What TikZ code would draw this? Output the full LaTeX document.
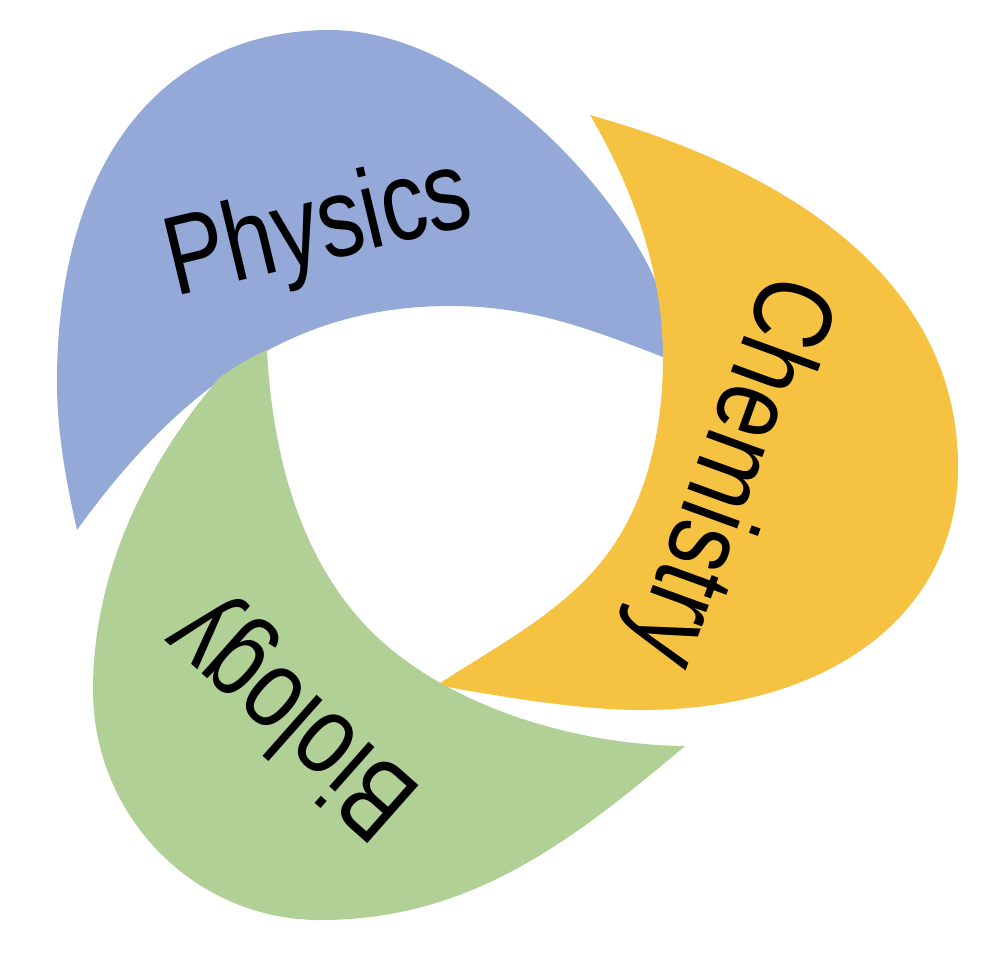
\documentclass[tikz,border=0pt]{standalone}
\usepackage{fontspec}
\newfontfamily\subjectfont{Liberation Sans}
\definecolor{physicsblue}{RGB}{148,169,215}
\definecolor{chemyellow}{RGB}{245,194,66}
\definecolor{biogreen}{RGB}{177,208,149}

\begin{document}
\begin{tikzpicture}[x=0.01cm, y=-0.01cm,
    subject/.style={anchor=base, inner sep=0pt, xscale=0.8, transform shape, font=\subjectfont\fontsize{32}{38}\selectfont}]
    \useasboundingbox (0, 0) rectangle (1000, 956);
    % physics
    \fill[physicsblue] (77, 530) .. controls (66, 481) and (57, 432) .. (57, 382)
      .. controls (57, 164) and (161, 30) .. (330, 30)
      .. controls (470, 30) and (617, 185) .. (658, 287)
      .. controls (662, 310) and (663, 335) .. (663, 357)
      .. controls (588, 328) and (530, 306) .. (450, 306)
      .. controls (320, 306) and (199, 360) .. (77, 530) -- cycle;
    % chemistry
    \fill[chemyellow] (590, 115) .. controls (801, 174) and (958, 287) .. (958, 467)
      .. controls (958, 613) and (831, 710) .. (640, 710)
      .. controls (580, 710) and (496, 696) .. (437, 685)
      .. controls (492, 649) and (554, 617) .. (597, 567)
      .. controls (646, 510) and (663, 432) .. (663, 357)
      .. controls (663, 272) and (633, 188) .. (590, 115) -- cycle;
    % biology
    \fill[biogreen] (685, 746) .. controls (571, 842) and (470, 920) .. (320, 920)
      .. controls (195, 920) and (93, 817) .. (93, 690)
      .. controls (93, 570) and (148, 461) .. (220, 377)
      .. controls (236, 366) and (251, 357) .. (267, 350)
      .. controls (272, 450) and (298, 555) .. (367, 627)
      .. controls (443, 706) and (575, 745) .. (685, 746) -- cycle;
    \node[rotate=13.5, subject] (physics) at (326, 260) {Physics};
    \node[rotate=-110, subject] (chemistry) at (699, 460) {Chemistry};
    \node[rotate=138.5, subject] (biology) at (314, 693) {Biology};
  \end{tikzpicture}
\end{document}
